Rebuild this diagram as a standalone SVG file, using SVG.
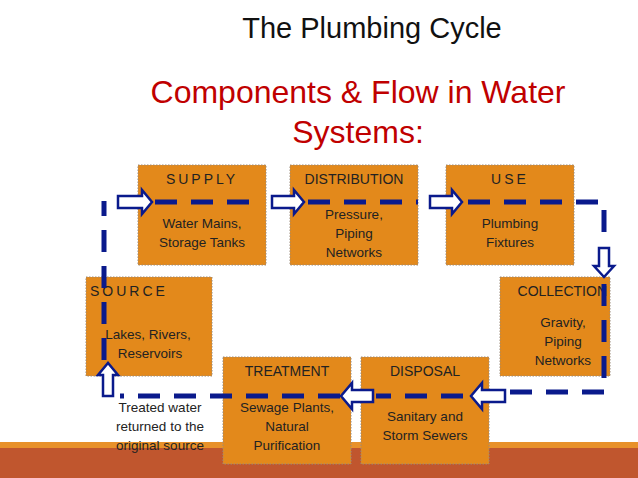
<svg xmlns="http://www.w3.org/2000/svg" width="638" height="478" viewBox="0 0 638 478">
<style>
.b{fill:#E3891B;stroke:#9a8a7a;stroke-width:1;stroke-dasharray:1.5 1.5}
text{font-family:"Liberation Sans","Open Sans",sans-serif;fill:#222}
.h{font-size:14px}
.s{font-size:13.5px}
.dl{fill:none;stroke:#0A1A8C;stroke-width:5;stroke-dasharray:22 14}
.ar{fill:#fff;stroke:#0A1A8C;stroke-width:2.5}
</style>
<rect width="638" height="478" fill="#fff"/>
<rect x="0" y="442" width="638" height="6" fill="#E8912A"/>
<rect x="0" y="448" width="638" height="30" fill="#C0562E"/>
<text x="372" y="38" font-size="29" text-anchor="middle" style="fill:#111">The Plumbing Cycle</text>
<text x="358" y="103" font-size="32" text-anchor="middle" style="fill:#C00000">Components &amp; Flow in Water</text>
<text x="358" y="143" font-size="32" text-anchor="middle" style="fill:#C00000">Systems:</text>
<g id="supply"><rect class="b" x="138" y="165" width="128" height="100"/><text class="h" x="202" y="184" text-anchor="middle" letter-spacing="3">SUPPLY</text><text class="s" x="202" y="228" text-anchor="middle">Water Mains,</text><text class="s" x="202" y="247" text-anchor="middle">Storage Tanks</text></g>
<g id="distribution"><rect class="b" x="290" y="165" width="128" height="100"/><text class="h" x="354" y="184" text-anchor="middle">DISTRIBUTION</text><text class="s" x="354" y="219" text-anchor="middle">Pressure,</text><text class="s" x="354" y="238" text-anchor="middle">Piping</text><text class="s" x="354" y="257" text-anchor="middle">Networks</text></g>
<g id="use"><rect class="b" x="446" y="165" width="128" height="100"/><text class="h" x="510" y="184" text-anchor="middle" letter-spacing="3">USE</text><text class="s" x="510" y="228" text-anchor="middle">Plumbing</text><text class="s" x="510" y="247" text-anchor="middle">Fixtures</text></g>
<g id="source"><rect class="b" x="86" y="277" width="126" height="99"/><text class="h" x="90" y="296" letter-spacing="3">SOURCE</text><text class="s" x="148" y="339" text-anchor="middle">Lakes, Rivers,</text><text class="s" x="150" y="358" text-anchor="middle">Reservoirs</text></g>
<g id="collection"><rect class="b" x="500" y="277" width="110" height="99"/><text class="h" x="607" y="296" text-anchor="end">COLLECTION</text><text class="s" x="563" y="327" text-anchor="middle">Gravity,</text><text class="s" x="563" y="346" text-anchor="middle">Piping</text><text class="s" x="563" y="365" text-anchor="middle">Networks</text></g>
<g id="treatment"><rect class="b" x="223" y="357" width="128" height="107"/><text class="h" x="287" y="376" text-anchor="middle">TREATMENT</text><text class="s" x="287" y="412" text-anchor="middle">Sewage Plants,</text><text class="s" x="287" y="431" text-anchor="middle">Natural</text><text class="s" x="287" y="450" text-anchor="middle">Purification</text></g>
<g id="disposal"><rect class="b" x="361" y="357" width="128" height="107"/><text class="h" x="425" y="376" text-anchor="middle">DISPOSAL</text><text class="s" x="425" y="421" text-anchor="middle">Sanitary and</text><text class="s" x="425" y="440" text-anchor="middle">Storm Sewers</text></g>
<g id="note"><text class="s" x="160" y="412" text-anchor="middle">Treated water</text><text class="s" x="160" y="431" text-anchor="middle">returned to the</text><text class="s" x="160" y="450" text-anchor="middle">original source</text></g>
<g id="connectors">
<path class="dl" d="M104 360 V201"/>
<path class="dl" d="M155 202 H262"/>
<path class="dl" d="M308 202 H418 M468 202 H604 V245"/>
<path class="dl" d="M604 284 V392 H505 M463 396 H376 M340 396 H120" style="stroke-dasharray:22 14"/>
<path class="ar" d="M118 196 H142 V190 L152 202 L142 214 V208 H118Z"/>
<path class="ar" d="M272 196 H294 V190 L304 202 L294 214 V208 H272Z"/>
<path class="ar" d="M430 196 H452 V190 L462 202 L452 214 V208 H430Z"/>
<path class="ar" d="M599 248 V266 H594 L604 277 L614 266 H609 V248Z"/>
<path class="ar" d="M505 390 H482 V383 L471 396 L482 409 V402 H505Z"/>
<path class="ar" d="M373 390 H352 V383 L341 396 L352 409 V402 H373Z"/>
<path class="ar" d="M103 396 V375 H98 L108 363 L118 375 H113 V396Z"/>
</g>
</svg>
